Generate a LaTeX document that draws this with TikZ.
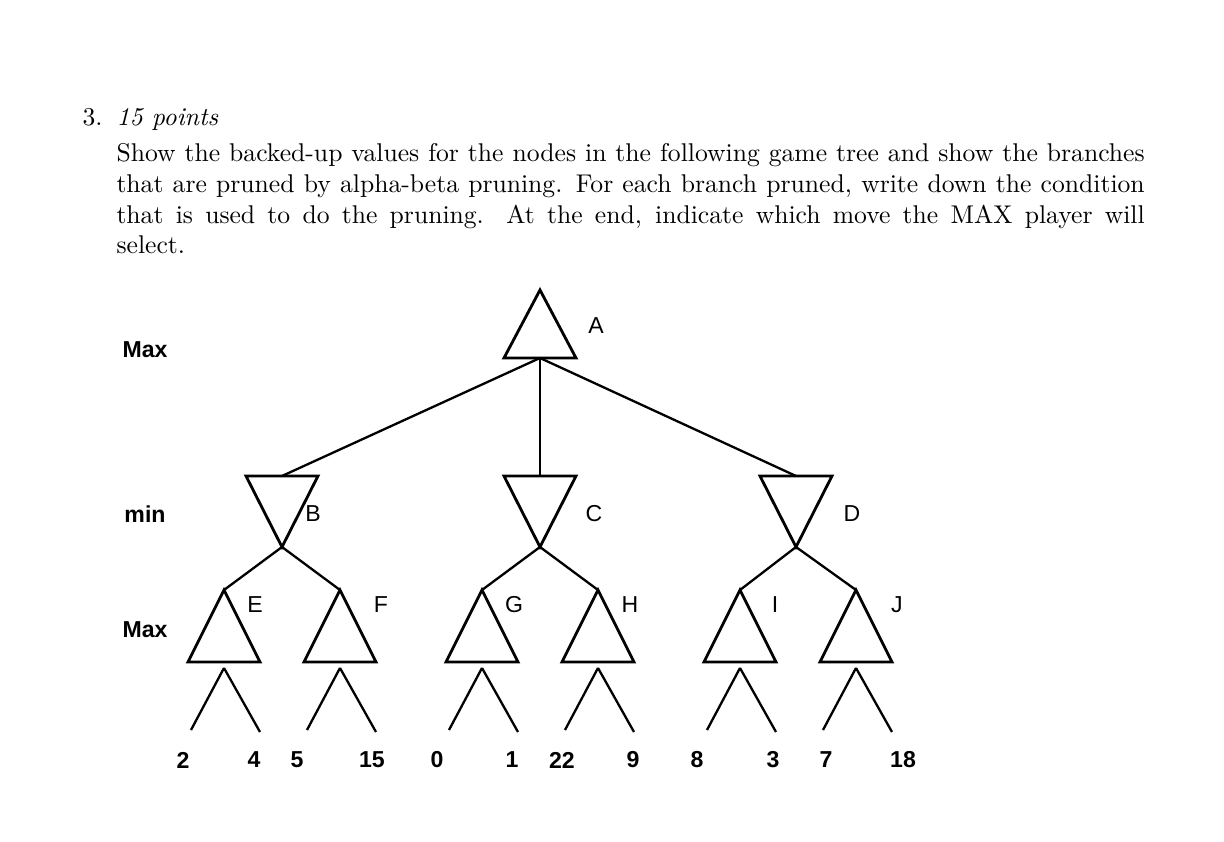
\documentclass[tikz,border=0pt]{standalone}
\usepackage{fontspec}
\newfontfamily\lab{Liberation Sans}
\begin{document}
\begin{tikzpicture}[x=0.39pt,y=-0.39pt,
  tri/.style={draw,line width=1.1pt,line join=miter},
  edge/.style={draw,line width=0.9pt},
  lbl/.style={font=\lab\small},
  lvl/.style={font=\lab\bfseries\small},
  leafnum/.style={font=\lab\bfseries\small}]
\useasboundingbox (0,0) rectangle (1224,842);
\node[anchor=base west,inner sep=0pt] (num) at (82,126) {3.};
\node[anchor=base west,inner sep=0pt] (pts) at (116,126) {\textit{15 points}};
\node[anchor=north west,text width=401pt,align=justify,inner sep=0pt] (para) at (116,143)
 {Show the backed-up values for the nodes in the following game tree and show the branches that are pruned by alpha-beta pruning. For each branch pruned, write down the condition that is used to do the pruning. At the end, indicate which move the MAX player will\linebreak select.};
% A
\draw[tri] (540,290) -- (576,358) -- (504,358) -- cycle;
\coordinate (Ab) at (540,358);
\node[lbl] (lA) at (596,326) {A};
% min nodes
\foreach \n/\x/\lx in {B/282/313,C/540/594,D/796/852}{
  \draw[tri] (\x-36,476) -- (\x+36,476) -- (\x,547) -- cycle;
  \coordinate (\n t) at (\x,476);
  \coordinate (\n b) at (\x,547);
  \node[lbl] (l\n) at (\lx,514) {\n};
}
\draw[edge] (Ab) -- (Bt); \draw[edge] (Ab) -- (Ct); \draw[edge] (Ab) -- (Dt);
% max nodes
\foreach \n/\x/\lx/\p in {E/224/255/B,F/340/381/B,G/482/514/C,H/598/630/C,I/740/775/D,J/856/897/D}{
  \draw[tri] (\x,590) -- (\x+36,662) -- (\x-36,662) -- cycle;
  \coordinate (\n t) at (\x,590);
  \coordinate (\n b) at (\x,668);
  \coordinate (\n l) at (\x-33,730);
  \coordinate (\n r) at (\x+36,732);
  \draw[edge] (\p b) -- (\n t);
  \draw[edge] (\n b) -- (\n l); \draw[edge] (\n b) -- (\n r);
  \node[lbl] (l\n) at (\lx,605) {\n};
}
\foreach \v/\x [count=\i] in {2/183,4/254,5/297,15/372,0/437,1/512,22/562,9/633,8/697,3/773,7/826,18/903}
  \node[leafnum] (v\i) at (\x,760) {\v};
\node[lvl] (m1) at (145,350) {Max};
\node[lvl] (m2) at (145,514) {min};
\node[lvl] (m3) at (145,630) {Max};
\end{tikzpicture}
\end{document}
